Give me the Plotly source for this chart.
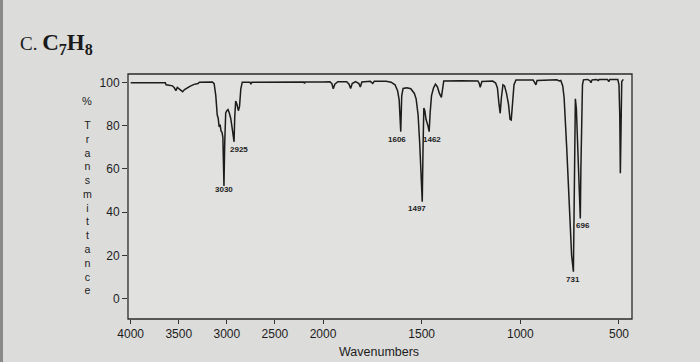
import plotly.graph_objects as go

# ---------------- data ----------------
# 4000-2000 cm-1 region (compressed part of the IR axis)
wn_hi = [4000, 3700, 3640, 3632, 3600, 3565, 3545, 3530, 3515, 3495,
         3475, 3460, 3440, 3410, 3380, 3340, 3300, 3285, 3150, 3132,
         3115, 3100, 3090, 3080, 3070, 3060, 3050, 3041, 3030, 3022,
         3012, 3000, 2988, 2975, 2960, 2945, 2925, 2918, 2908, 2895,
         2880, 2868, 2855, 2840, 2760, 2750, 2740, 2200, 2192, 2185, 2000]
t_hi = [100, 100, 100, 99.0, 98.8, 98.5, 97.5, 96.3, 97.8, 97.2,
        96.4, 95.8, 96.8, 97.8, 98.4, 99.2, 99.6, 100.2, 100.3, 99.5,
        94, 85, 83.5, 79.5, 80.5, 77.5, 77, 74.5, 52.1, 72,
        86, 87, 87.5, 86, 83.5, 79, 72.6, 84, 91.5, 90,
        87, 89, 97, 100.2, 100.2, 99.3, 100.2, 100.3, 99.6, 100.3, 100.3]

# 2000-480 cm-1 region
wn_lo = [2000, 1965, 1955, 1948, 1940, 1925, 1880, 1868, 1860, 1852,
         1835, 1818, 1811, 1803, 1760, 1748, 1740, 1680, 1655, 1635,
         1622, 1614, 1606, 1601, 1594, 1575, 1555, 1545, 1537, 1528,
         1518, 1510, 1497, 1493, 1489, 1484, 1478, 1468, 1462, 1457,
         1450, 1440, 1430, 1420, 1410, 1400, 1394, 1388, 1300, 1215,
         1208, 1203, 1195, 1140, 1125, 1116, 1108, 1102, 1096, 1088,
         1080, 1070, 1060, 1052, 1046, 1040, 1032, 1022, 935, 927,
         921, 915, 815, 803, 795, 785, 778, 765, 752, 740,
         731, 728, 725, 721, 716, 708, 700, 696, 693, 689,
         685, 680, 660, 648, 642, 636, 615, 605, 600, 558,
         552, 546, 506, 500, 496, 493, 490, 486, 478]
t_lo = [100.3, 100.4, 99.5, 97.2, 99.3, 100.4, 100.4, 99.3, 97.3, 99.6,
        100.5, 99.6, 98.0, 100.3, 100.6, 99.6, 100.6, 100.6, 100.2, 99.0,
        96.3, 92, 77.3, 94, 97.3, 97.6, 97.2, 96, 95, 92.5,
        85, 72, 44.8, 70, 88.3, 87, 83, 80, 77.3, 86,
        94, 97.5, 99.3, 98, 95, 93.2, 97, 100.8, 100.9, 100.8,
        99.6, 97.8, 100.5, 100.7, 99.8, 97.5, 90, 85.8, 93, 99,
        98.5, 95, 90, 83, 82.7, 92, 99, 101.2, 101.2, 100,
        99, 101, 101.3, 100.8, 101, 98.5, 93, 70, 40, 20,
        12.4, 45, 80, 92.5, 88, 68, 45, 37.1, 60, 88,
        99, 101.3, 101.5, 101, 100, 101.3, 101.5, 101, 101.5, 101.5,
        100.5, 101.5, 101.5, 99, 85, 58, 85, 100.5, 101.5]

x_ticks_hi = [4000, 3500, 3000, 2500, 2000]
x_ticks_lo = [1500, 1000, 500]
y_ticks = [0, 20, 40, 60, 80, 100]

peak_labels = ["3030", "2925", "1606", "1497", "1462", "731", "696"]
peak_label_x = [3033, 2877, 1627, 1522, 1446, 733, 682]
peak_label_y = [50.6, 68.8, 73.7, 41.5, 73.7, 8.6, 34.0]
peak_label_axis = ["x", "x", "x2", "x2", "x2", "x2", "x2"]

ylabel_letters = list("Transmittance")

# ---------------- layout constants ----------------
W, H = 700, 362
L, R, T, B = 128, 68, 74, 43
PW, PH = W - L - R, H - T - B
split = (323 - L) / PW

def px_x(p):
    return (p - L) / PW

def px_y(p):
    return (H - B - p) / PH

INK = "#1c1c1c"
SANS = "Liberation Sans, Arial, sans-serif"
SERIF = "Liberation Serif, Times New Roman, serif"

fig = go.Figure()
fig.add_trace(go.Scatter(x=wn_hi, y=t_hi, xaxis="x", yaxis="y", mode="lines",
                         line=dict(color=INK, width=1.5), hoverinfo="skip"))
fig.add_trace(go.Scatter(x=wn_lo, y=t_lo, xaxis="x2", yaxis="y", mode="lines",
                         line=dict(color=INK, width=1.5), hoverinfo="skip"))

axis_common = dict(showgrid=False, zeroline=False, showline=False,
                   ticks="outside", ticklen=4, tickwidth=1, tickcolor="#333",
                   tickfont=dict(family=SANS, size=12, color=INK))

fig.update_layout(
    width=W, height=H,
    margin=dict(l=L, r=R, t=T, b=B, pad=0),
    paper_bgcolor="#dcdcdb",
    plot_bgcolor="#e1e1e0",
    showlegend=False,
    xaxis=dict(domain=[0, split], range=[4028, 2000], tickvals=x_ticks_hi,
               ticktext=[str(v) for v in x_ticks_hi], anchor="y", **axis_common),
    xaxis2=dict(domain=[split, 1], range=[2000, 434], tickvals=x_ticks_lo,
                ticktext=[str(v) for v in x_ticks_lo], anchor="y", **axis_common),
    yaxis=dict(range=[-9.5, 104], tickvals=y_ticks, anchor="x",
               **{**axis_common, "ticklen": 5}),
)

shapes = [
    dict(type="rect", xref="paper", yref="paper", x0=0, x1=1, y0=0, y1=1,
         line=dict(color="#2a2a2a", width=1.3), layer="above"),
    dict(type="rect", xref="paper", yref="paper", x0=px_x(0), x1=px_x(3),
         y0=px_y(H), y1=px_y(0), line=dict(width=0), fillcolor="#8a8a8a",
         layer="above"),
]
fig.update_layout(shapes=shapes)

annotations = []
for txt, xv, yv, ax in zip(peak_labels, peak_label_x, peak_label_y, peak_label_axis):
    annotations.append(dict(x=xv, y=yv, xref=ax, yref="y", text="<b>%s</b>" % txt,
                            showarrow=False, xanchor="center", yanchor="middle",
                            font=dict(family=SANS, size=8, color="#222")))

annotations.append(dict(x=px_x(379), y=px_y(352), xref="paper", yref="paper",
                        text="Wavenumbers", showarrow=False,
                        xanchor="center", yanchor="middle",
                        font=dict(family=SANS, size=12.5, color=INK)))

# y-axis label: "%" then the word written letter by letter downwards
annotations.append(dict(x=px_x(87), y=px_y(101), xref="paper", yref="paper",
                        text="%", showarrow=False,
                        xanchor="center", yanchor="middle",
                        font=dict(family=SANS, size=11, color=INK)))
annotations.append(dict(x=px_x(87), y=px_y(207.5), xref="paper", yref="paper",
                        text="<br>".join(ylabel_letters),
                        showarrow=False, xanchor="center", yanchor="middle",
                        align="center",
                        font=dict(family=SANS, size=10.6, color=INK)))

annotations.append(dict(x=px_x(18), y=px_y(44), xref="paper", yref="paper",
                        text="<span style='font-size:19px'>C. </span>"
                             "<b>C<sub>7</sub>H<sub>8</sub></b>",
                        showarrow=False, xanchor="left", yanchor="middle",
                        font=dict(family=SERIF, size=23, color="#1a1a1a")))

fig.update_layout(annotations=annotations)

fig.write_html(
    "out.html",
    config={"displayModeBar": False, "staticPlot": True},
    post_script="document.body.style.margin='0';"
                "document.body.style.overflow='hidden';"
                "document.body.style.background='#dcdcdb';",
)
